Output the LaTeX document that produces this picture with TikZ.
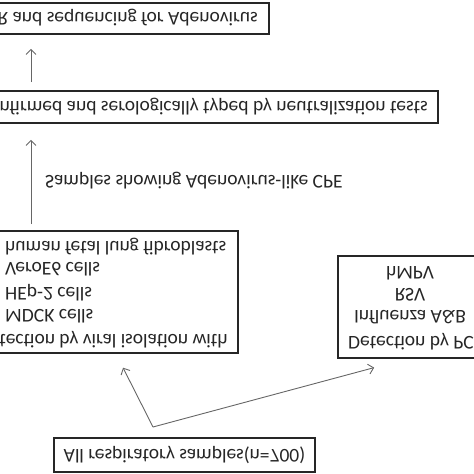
\documentclass[tikz,border=0pt]{standalone}
\usepackage{fontspec}
\setmainfont{Carlito}
\usetikzlibrary{arrows.meta}
\newcommand{\mirr}[1]{\scalebox{1}[-1]{#1}}
\begin{document}
\begin{tikzpicture}[x=1pt,y=-1pt,
  box/.style={draw=black!85, line width=1.6pt, inner sep=0pt},
  lbl/.style={inner sep=0pt, font=\fontsize{19.5}{23}\selectfont, text=black!85},
  conn/.style={draw=black!60, line width=0.9pt, -{Straight Barb[length=5pt,width=10pt]}}]
\useasboundingbox (0,0) rectangle (474,474);
\node[box, minimum width=349pt, minimum height=31pt] (b1) at (94.5,18.5) {};
\node[box, minimum width=518pt, minimum height=32pt] (b2) at (179,107) {};
\node[box, minimum width=318pt, minimum height=122pt] (b3) at (79,292) {};
\node[box, minimum width=182pt, minimum height=102pt] (b4) at (429,307) {};
\node[box, minimum width=261pt, minimum height=34pt] (b5) at (184.5,455) {};
\node[lbl, anchor=east] (t1) at (258,18) {\mirr{PCR and sequencing for Adenovirus}};
\node[lbl, anchor=east] (t2) at (428,107) {\mirr{Confirmed and serologically typed by neutralization tests}};
\node[lbl, anchor=west] (t3) at (45,181) {\mirr{Samples showing Adenovirus-like CPE}};
\node[lbl, anchor=west] (t3a) at (5,247) {\mirr{human fetal lung fibroblasts}};
\node[lbl, anchor=west] (t3b) at (5,269) {\mirr{VeroE6 cells}};
\node[lbl, anchor=west] (t3c) at (5,293) {\mirr{HEp-2 cells}};
\node[lbl, anchor=west] (t3d) at (5,316) {\mirr{MDCK cells}};
\node[lbl, anchor=east] (t3e) at (228,340) {\mirr{Detection by viral isolation with}};
\node[lbl] (t4a) at (410,273) {\mirr{hMPV}};
\node[lbl] (t4b) at (410,295) {\mirr{RSV}};
\node[lbl] (t4c) at (410,317) {\mirr{Influenza A\&B}};
\node[lbl, anchor=west] (t4d) at (348,342) {\mirr{Detection by PCR}};
\node[lbl] (t5) at (184.5,455) {\mirr{All respiratory samples(n=700)}};
\coordinate (ax) at (31,0);
\coordinate (fork) at (153,427);
\draw[conn, shorten <=8pt, shorten >=14pt] (ax |- b2.north) -- (ax |- b1.south);
\draw[conn, shorten <=6pt, shorten >=16pt] (ax |- b3.north) -- (ax |- b2.south);
\draw[conn, shorten >=15.6pt] (fork) -- (116,0 |- b3.south);
\draw[conn, shorten >=34pt] (fork) -- (407,0 |- b4.south);
\end{tikzpicture}
\end{document}
